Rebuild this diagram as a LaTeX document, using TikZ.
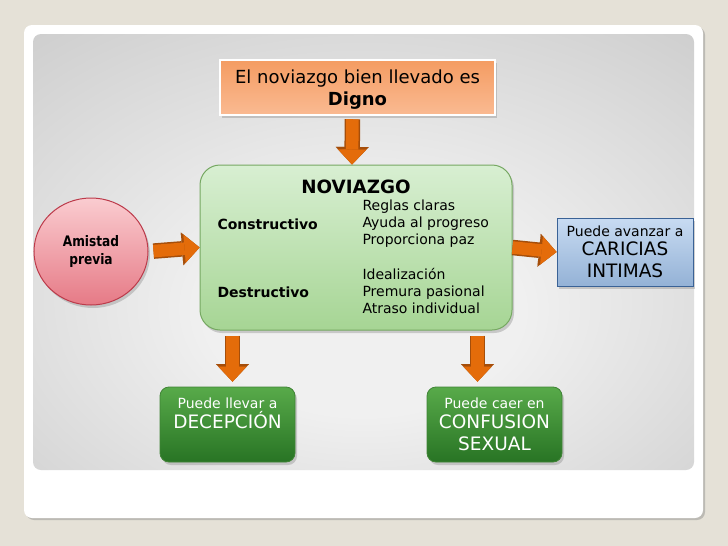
\documentclass[tikz,border=0pt]{standalone}
\usepackage{fontspec}
\setmainfont{DejaVu Sans}
\newfontfamily\condfont{DejaVu Sans}[FakeStretch=0.84]
\usetikzlibrary{positioning, shapes.geometric, shadows, arrows.meta}

\definecolor{fondo}{RGB}{229,225,215}
\definecolor{grisclaro}{RGB}{240,240,240}
\definecolor{grisoscuro}{RGB}{160,160,160}
\definecolor{naranjaA}{RGB}{244,156,98}
\definecolor{naranjaB}{RGB}{250,186,146}
\definecolor{flecha}{RGB}{228,108,10}
\definecolor{flechaborde}{RGB}{165,78,10}
\definecolor{verdeA}{RGB}{216,239,210}
\definecolor{verdeB}{RGB}{166,213,148}
\definecolor{verdeborde}{RGB}{118,168,98}
\definecolor{rosaA}{RGB}{250,204,208}
\definecolor{rosaB}{RGB}{230,122,134}
\definecolor{rosaborde}{RGB}{188,58,74}
\definecolor{azulA}{RGB}{200,219,242}
\definecolor{azulB}{RGB}{148,178,214}
\definecolor{azulborde}{RGB}{58,98,150}
\definecolor{verdeoscA}{RGB}{88,170,74}
\definecolor{verdeoscB}{RGB}{40,116,36}
\definecolor{verdeoscborde}{RGB}{64,132,54}

\pgfdeclareradialshading{fondogris}{\pgfpoint{0bp}{-8bp}}{%
  color(0bp)=(grisclaro); color(12bp)=(grisclaro); color(75bp)=(grisoscuro)}

\newcommand{\chico}{\fontsize{14}{18}\selectfont}
\newcommand{\grande}{\fontsize{18.5}{22}\selectfont}

\tikzset{
  sombra/.style={drop shadow={opacity=0.35, shadow xshift=2pt, shadow yshift=-3pt}},
  fatarrow/.style={
    preaction={draw=flechaborde, line width=15.5pt,
      -{Triangle[length=17.5pt, width=33pt, line width=0.1pt]}},
    draw=flecha, line width=12.5pt,
    -{Triangle[length=15pt, width=28pt, line width=0.1pt]}},
  caja/.style={rectangle, inner sep=0pt, align=center, sombra},
}

\begin{document}
\begin{tikzpicture}[x=1pt, y=1pt]
  \useasboundingbox (0,0) rectangle (728,-546);
  \fill[fondo] (0,0) rectangle (728,-546);
  % tarjeta y fondo gris
  \fill[white, rounded corners=8pt, drop shadow={opacity=0.4, shadow xshift=2pt, shadow yshift=-2pt}]
    (24,-25) rectangle (703,-518);
  \shade[shading=fondogris, rounded corners=8pt]
    (33,-34) rectangle (694,-470);

  \node[caja, minimum width=275, minimum height=55, draw=white, line width=2.5pt,
    top color=naranjaA, bottom color=naranjaB, font=\fontsize{18}{22}\selectfont]
    (digno) at (357.5,-87.5) {\rule{0pt}{17pt}El noviazgo bien llevado es\\\textbf{Digno}};

  \node[caja, minimum width=312, minimum height=165, rounded corners=20pt,
    draw=verdeborde, line width=1pt, top color=verdeA, bottom color=verdeB]
    (novio) at (356,-247.5) {};
  \node[font=\bfseries\fontsize{18.3}{20}\selectfont] (titulo) at (356,-187) {NOVIAZGO};
  \node[anchor=west, font=\bfseries\chico] (constr) at (214,-224) {Constructivo};
  \node[anchor=west, font=\bfseries\chico] (destr) at (214,-292) {Destructivo};
  \node[anchor=west, align=left, font=\fontsize{14}{17}\selectfont] (pos) at (359,-224)
    {Reglas claras\\Ayuda al progreso\\Proporciona paz};
  \node[anchor=west, align=left, font=\fontsize{14}{17}\selectfont] (neg) at (359,-291)
    {Idealización\\Premura pasional\\Atraso individual};

  \node[ellipse, minimum width=114, minimum height=107, inner sep=0pt, align=center,
    draw=rosaborde, line width=1pt, top color=rosaA, bottom color=rosaB, sombra,
    font=\condfont\bfseries\fontsize{14.5}{18}\selectfont]
    (amistad) at (91,-251.5) {Amistad\\previa};

  \node[caja, minimum width=136, minimum height=68, draw=azulborde, line width=1pt,
    top color=azulA, bottom color=azulB, font=\grande]
    (caricias) at (625,-252)
    {\chico Puede avanzar a\\[-3pt]CARICIAS\\INTIMAS};

  \node[caja, minimum width=135, minimum height=75, rounded corners=9pt,
    draw=verdeoscborde, line width=0.8pt, top color=verdeoscA, bottom color=verdeoscB,
    text=white, font=\grande]
    (decepcion) at (227.5,-424.5)
    {\chico Puede llevar a\\[-2pt]DECEPCIÓN\\\phantom{X}};

  \node[caja, minimum width=135, minimum height=75, rounded corners=9pt,
    draw=verdeoscborde, line width=0.8pt, top color=verdeoscA, bottom color=verdeoscB,
    text=white, font=\grande]
    (confusion) at (494.5,-424.5)
    {\chico Puede caer en\\[-2pt]CONFUSION\\SEXUAL};

  % flechas
  \draw[fatarrow, shorten <=3pt] ([xshift=-5pt]digno.south) -- ([xshift=-4pt]novio.north);
  \draw[fatarrow, shorten <=5pt] (amistad.east) -- (novio.west);
  \draw[fatarrow] (novio.east) -- (caricias.west);
  \draw[fatarrow, shorten <=5pt, shorten >=5pt] ([xshift=5pt]decepcion.north |- novio.south) -- ([xshift=5pt]decepcion.north);
  \draw[fatarrow, shorten <=5pt, shorten >=5pt] ([xshift=-17pt]confusion.north |- novio.south) -- ([xshift=-17pt]confusion.north);
\end{tikzpicture}
\end{document}
